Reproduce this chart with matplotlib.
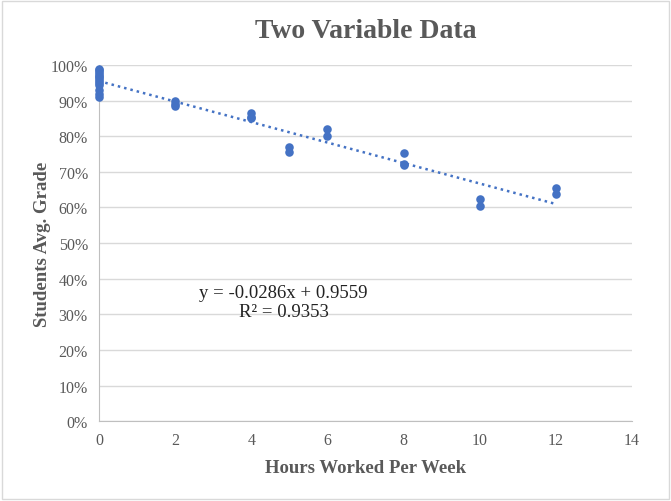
import matplotlib.pyplot as plt
import numpy as np
from matplotlib.patches import Rectangle

hours = [0, 0, 0, 0, 0, 0, 0, 0, 0, 0, 0, 0, 0,
         2, 2, 2,
         4, 4, 4,
         5, 5,
         6, 6,
         8, 8, 8,
         10, 10,
         12, 12]
grades = [0.99, 0.985, 0.98, 0.975, 0.97, 0.965, 0.96, 0.955, 0.95, 0.945, 0.93, 0.92, 0.91,
          0.90, 0.89, 0.885,
          0.865, 0.855, 0.85,
          0.77, 0.755,
          0.82, 0.80,
          0.753, 0.722, 0.718,
          0.625, 0.605,
          0.655, 0.638]
x_ticks = [0, 2, 4, 6, 8, 10, 12, 14]
y_ticks = [0, 0.1, 0.2, 0.3, 0.4, 0.5, 0.6, 0.7, 0.8, 0.9, 1.0]
eq_text = "y = -0.0286x + 0.9559\nR² = 0.9353"

blue = '#4472C4'
grey = '#595959'
plt.rcParams['font.family'] = ['Liberation Serif', 'DejaVu Serif']

fig = plt.figure(figsize=(6.71, 5.02), dpi=100)
ax = fig.add_axes([0.1475, 0.159, 0.7945, 0.7095])

slope, icpt = np.polyfit(hours, grades, 1)
xs = np.array([0, 12])
ax.plot(xs, slope * xs + icpt, color=blue, lw=1.8, ls=(0, (1, 1.6)), zorder=2)
ax.scatter(hours, grades, s=38, color=blue, zorder=3, linewidths=0, clip_on=False)

ax.set_xlim(0, 14)
ax.set_ylim(0, 1.0)
ax.set_xticks(x_ticks)
ax.set_yticks(y_ticks)
ax.set_yticklabels([f"{int(round(v * 100))}%" for v in y_ticks])
ax.tick_params(length=0, labelsize=11.5, colors=grey, pad=8)
ax.grid(axis='y', color='#D9D9D9', lw=1)
ax.set_axisbelow(True)
for s in ['top', 'right']:
    ax.spines[s].set_visible(False)
for s in ['left', 'bottom']:
    ax.spines[s].set_color('#BFBFBF')

ax.text(4.85, 0.335, eq_text, ha='center', va='center', fontsize=13.5,
        color='#222222', linespacing=1.15)

ax.set_title('Two Variable Data', fontsize=20, fontweight='bold', color=grey, pad=20)
ax.set_xlabel('Hours Worked Per Week', fontsize=13.5, fontweight='bold', color=grey, labelpad=8)
ax.set_ylabel('Students Avg. Grade', fontsize=13.5, fontweight='bold', color=grey, labelpad=0)

fig.patches.append(Rectangle((0.003, 0.003), 0.994, 0.994, transform=fig.transFigure,
                             fill=False, edgecolor='#D9D9D9', lw=1))

fig.savefig('out.png', dpi=100)
